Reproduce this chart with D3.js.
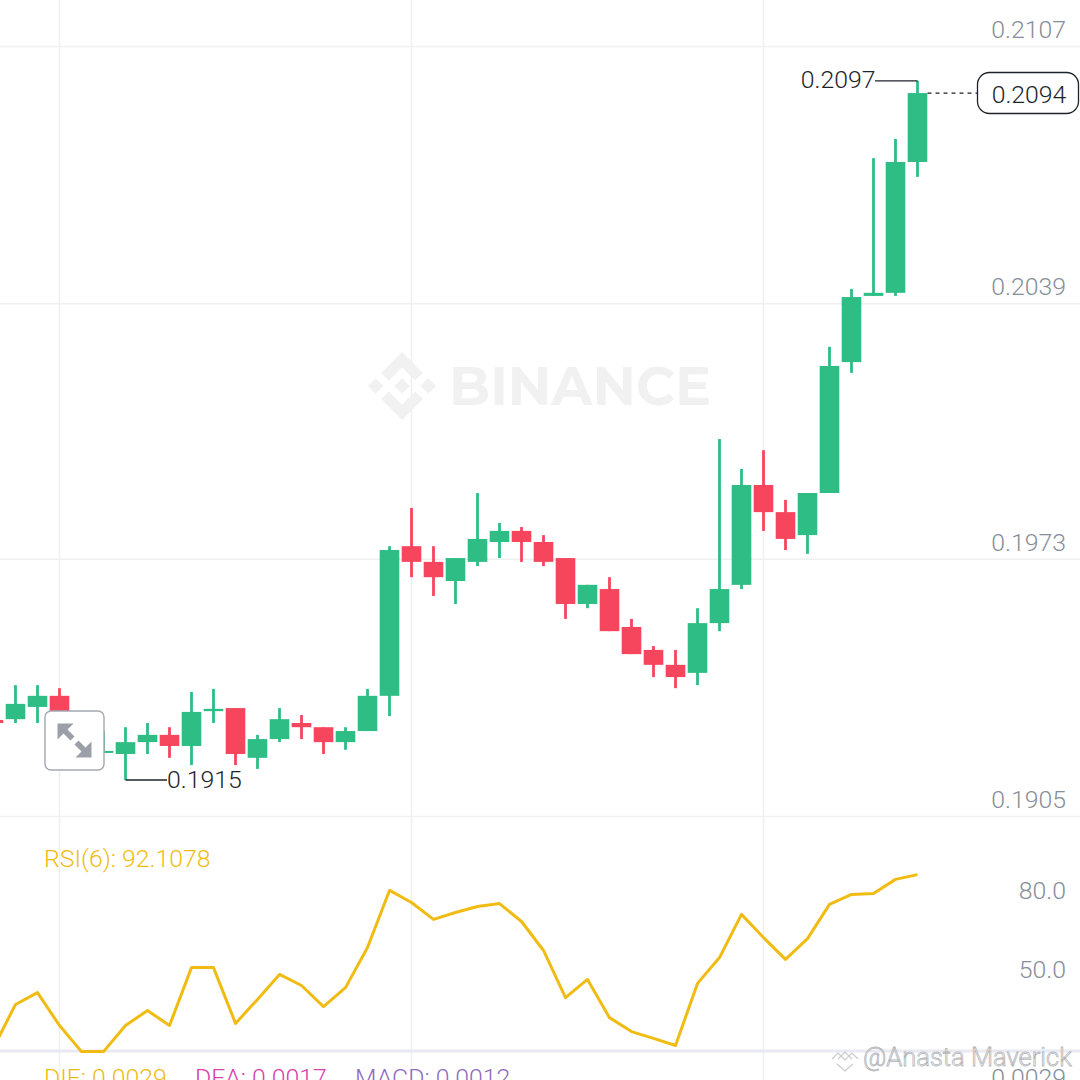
<!DOCTYPE html>
<html>
<head>
<meta charset="utf-8">
<script src="https://cdn.jsdelivr.net/npm/d3@7"></script>
<style>
  html, body { margin: 0; padding: 0; background: #fff; }
  svg { display: block; font-family: Roboto, sans-serif; font-weight: 300; }
</style>
</head>
<body>
<div id="chart"></div>
<script>
// candles, oldest first (first one is cut off by the left edge)
var opens = [0.19305,0.19307,0.19339,0.19368,0.19323,0.19219,0.19216,0.19247,0.19266,0.19237,0.19328,0.19336,0.19206,0.19255,0.19297,0.19286,0.19247,0.19276,0.19368,0.19759,0.19718,0.19668,0.19718,0.19770,0.19799,0.19770,0.19728,0.19608,0.19647,0.19548,0.19488,0.19449,0.19428,0.19558,0.19658,0.19919,0.19848,0.19788,0.19898,0.20240,0.20413,0.20421,0.20763];
var highs = [0.19310,0.19396,0.19396,0.19388,0.19326,0.19276,0.19286,0.19297,0.19286,0.19378,0.19386,0.19336,0.19266,0.19336,0.19318,0.19286,0.19286,0.19386,0.19759,0.19859,0.19759,0.19728,0.19898,0.19820,0.19809,0.19788,0.19728,0.19658,0.19678,0.19569,0.19498,0.19488,0.19597,0.20039,0.19961,0.20010,0.19880,0.19898,0.20280,0.20431,0.20773,0.20823,0.20975];
var lows = [0.19292,0.19297,0.19297,0.19315,0.19221,0.19219,0.19148,0.19216,0.19206,0.19187,0.19297,0.19187,0.19177,0.19247,0.19255,0.19216,0.19227,0.19276,0.19315,0.19678,0.19629,0.19608,0.19707,0.19728,0.19718,0.19707,0.19569,0.19597,0.19537,0.19477,0.19417,0.19388,0.19396,0.19537,0.19647,0.19799,0.19749,0.19739,0.19898,0.20212,0.20413,0.20413,0.20724];
var closes = [0.19297,0.19347,0.19368,0.19328,0.19232,0.19224,0.19247,0.19266,0.19237,0.19326,0.19334,0.19216,0.19255,0.19307,0.19286,0.19247,0.19276,0.19368,0.19749,0.19718,0.19678,0.19728,0.19778,0.19799,0.19770,0.19718,0.19608,0.19658,0.19537,0.19477,0.19449,0.19417,0.19558,0.19647,0.19919,0.19848,0.19778,0.19898,0.20230,0.20410,0.20421,0.20763,0.20943];
var rsiValues = [26.4,42.8,47.3,34.8,24.9,24.9,34.8,40.5,34.8,56.8,56.8,35.6,44.7,54.2,50.0,42.0,49.2,64.4,86.1,81.5,75.1,77.7,80.0,81.1,74.3,63.3,45.4,52.3,37.8,32.5,29.9,27.2,50.8,60.6,77.0,68.2,59.9,67.8,80.8,84.6,84.9,90.3,92.1];

var priceTicks = [0.21066, 0.20394, 0.19726, 0.19054];
var rsiTicks = [80, 50];
var timeTicks = [3, 19, 35];

var highLabel = "0.2097", lowLabel = "0.1915", lastLabel = "0.2094";
var rsiLabel = "RSI(6): 92.1078";
var macdLabels = ["DIF: 0.0029", "DEA: 0.0017", "MACD: 0.0012"];
var macdColors = ["#F0BC14", "#D940AE", "#8F6BBE"];
var macdTick = "0.0029";

var GREEN = "#2EBD85", RED = "#F6465D", GRID = "#EFF0F2", TICK = "#868E99", DARK = "#1E2329", YELLOW = "#F0BC14";
var FONT = 24.8;

var size = 1080;
var svg = d3.select("#chart").append("svg").attr("width", size).attr("height", size);

var x = d3.scaleLinear().domain([0, opens.length - 1]).range([-6.5, 917.5]);
var y = d3.scaleLinear().domain([priceTicks[0], priceTicks[3]]).range([46, 816]);
var yRsi = d3.scaleLinear().domain([80, 50]).range([906.5, 985.5]);

// grid
svg.append("g").selectAll("line").data(timeTicks).join("line")
  .attr("x1", d => x(d)).attr("x2", d => x(d))
  .attr("y1", 0).attr("y2", size)
  .attr("stroke", GRID).attr("stroke-width", 1.5);

var priceAxis = d3.axisRight(y).tickValues(priceTicks).tickSize(size).tickFormat(d3.format(".4f"));
var gPrice = svg.append("g").call(priceAxis);
gPrice.select(".domain").remove();
gPrice.selectAll("line").attr("stroke", GRID).attr("stroke-width", 1.5);

// pane divider
svg.append("line").attr("x1", 0).attr("x2", size).attr("y1", 1051).attr("y2", 1051)
  .attr("stroke", "#E9EAF1").attr("stroke-width", 3);

// binance watermark
svg.append("path")
  .attr("transform", "translate(368,352) scale(0.537)")
  .attr("fill", "#F1F1F2")
  .attr("d", "M38.73 53.2l24.59-24.58 24.6 24.6 14.3-14.31L63.32 0 24.42 38.9l14.31 14.3z M0 63.31l14.3-14.31 14.31 14.31-14.31 14.3L0 63.31z M38.73 73.41l24.59 24.59 24.6-24.6 14.31 14.29-38.9 38.91-38.91-38.88-.02-.02 14.33-14.29z M98 63.31l14.3-14.3 14.31 14.3-14.31 14.3z M77.83 63.3L63.32 48.78 52.59 59.51l-1.24 1.23-2.54 2.54 14.51 14.5 14.51-14.47z");
svg.append("text").text("BINANCE")
  .attr("x", 449).attr("y", 405)
  .attr("textLength", 262).attr("lengthAdjust", "spacingAndGlyphs")
  .attr("font-family", "Montserrat, Lato, sans-serif")
  .attr("font-size", 54).attr("font-weight", 700)
  .attr("fill", "#F1F1F2");

// candles
var idx = d3.range(opens.length);
var color = i => closes[i] >= opens[i] ? GREEN : RED;

svg.append("g").selectAll("line").data(idx).join("line")
  .attr("x1", i => x(i)).attr("x2", i => x(i))
  .attr("y1", i => y(highs[i])).attr("y2", i => y(lows[i]))
  .attr("stroke", color).attr("stroke-width", 2.8);

svg.append("g").selectAll("rect").data(idx).join("rect")
  .attr("x", i => x(i) - 9.8).attr("width", 19.6)
  .attr("y", i => y(Math.max(opens[i], closes[i])))
  .attr("height", i => Math.max(2, Math.abs(y(opens[i]) - y(closes[i]))))
  .attr("fill", color);

// high / low / last annotations
var last = opens.length - 1;
var iHigh = d3.maxIndex(highs), iLow = d3.minIndex(lows);

svg.append("line").attr("x1", 875).attr("x2", x(iHigh)).attr("y1", y(highs[iHigh])).attr("y2", y(highs[iHigh]))
  .attr("stroke", DARK).attr("stroke-width", 1.4);
svg.append("text").text(highLabel).attr("x", 875.5).attr("y", y(highs[iHigh]) - 1)
  .attr("text-anchor", "end").attr("dominant-baseline", "central")
  .attr("font-size", FONT).attr("fill", DARK);

svg.append("line").attr("x1", x(iLow)).attr("x2", 167).attr("y1", y(lows[iLow])).attr("y2", y(lows[iLow]))
  .attr("stroke", DARK).attr("stroke-width", 1.4);
svg.append("text").text(lowLabel).attr("x", 167).attr("y", y(lows[iLow]) - 1)
  .attr("dominant-baseline", "central")
  .attr("font-size", FONT).attr("fill", DARK);

svg.append("line").attr("x1", x(last) + 10).attr("x2", 977).attr("y1", y(closes[last])).attr("y2", y(closes[last]))
  .attr("stroke", DARK).attr("stroke-width", 1.3).attr("stroke-dasharray", "4 4");
svg.append("rect").attr("x", 977.5).attr("y", 72.5).attr("width", 101).attr("height", 41).attr("rx", 12)
  .attr("fill", "#fff").attr("stroke", DARK).attr("stroke-width", 1.3);
svg.append("text").text(lastLabel).attr("x", 1029).attr("y", 94.5)
  .attr("text-anchor", "middle").attr("dominant-baseline", "central")
  .attr("font-size", FONT).attr("fill", DARK);

// price labels sit above their grid line
gPrice.selectAll("text")
  .attr("x", 1066).attr("dy", null).attr("y", -17)
  .attr("text-anchor", "end").attr("dominant-baseline", "central")
  .attr("font-family", "Roboto, sans-serif").attr("font-size", FONT).attr("fill", TICK);

// fullscreen button
var btn = svg.append("g").attr("transform", "translate(74.5,740.5)");
btn.append("rect").attr("x", -29.5).attr("y", -29.5).attr("width", 59).attr("height", 59).attr("rx", 6)
  .attr("fill", "#fff").attr("stroke", "#A3A8B1").attr("stroke-width", 1.4);
btn.append("path").attr("fill", "#9A9FA8")
  .attr("d", "M-17-17H-1L-7-11L0-4L-4 0L-11-7L-17-1Z M17 17H1L7 11L0 4L4 0L11 7L17 1Z");

// RSI pane
svg.append("path").datum(rsiValues)
  .attr("fill", "none").attr("stroke", YELLOW).attr("stroke-width", 3).attr("stroke-linejoin", "round")
  .attr("d", d3.line().x((d, i) => x(i)).y(d => yRsi(d)));

var rsiAxis = d3.axisRight(yRsi).tickValues(rsiTicks).tickSize(0).tickFormat(d3.format(".1f"));
var gRsi = svg.append("g").call(rsiAxis);
gRsi.select(".domain").remove();
gRsi.selectAll("text")
  .attr("x", 1066).attr("dy", null).attr("y", -16.5)
  .attr("text-anchor", "end").attr("dominant-baseline", "central")
  .attr("font-family", "Roboto, sans-serif").attr("font-size", FONT).attr("fill", TICK);

svg.append("text").text(rsiLabel).attr("x", 44).attr("y", 858)
  .attr("dominant-baseline", "central").attr("font-size", FONT).attr("fill", YELLOW);

// MACD header, cut off by the bottom edge
var macdX = [44, 195, 355];
svg.append("g").selectAll("text").data(macdLabels).join("text")
  .text(d => d)
  .attr("x", (d, i) => macdX[i]).attr("y", 1086)
  .attr("font-size", FONT).attr("fill", (d, i) => macdColors[i]);
svg.append("text").text(macdTick).attr("x", 1066).attr("y", 1086)
  .attr("text-anchor", "end").attr("font-size", FONT).attr("fill", TICK);

// square watermark bottom right
var wm = svg.append("g").attr("fill", "none").attr("stroke", "#C9CBCF").attr("stroke-width", 1.2);
wm.append("path").attr("d", "M832 1059L838 1053L845 1060L852 1053L858 1059 M838 1059L845 1052L852 1059 M837 1064L845 1071L853 1064");
svg.append("text").text("@Anasta Maverick").attr("x", 863).attr("y", 1066)
  .attr("font-size", 25.5).attr("fill", "#fff").attr("stroke", "#B4B6BA").attr("stroke-width", 0.8);
</script>
</body>
</html>
